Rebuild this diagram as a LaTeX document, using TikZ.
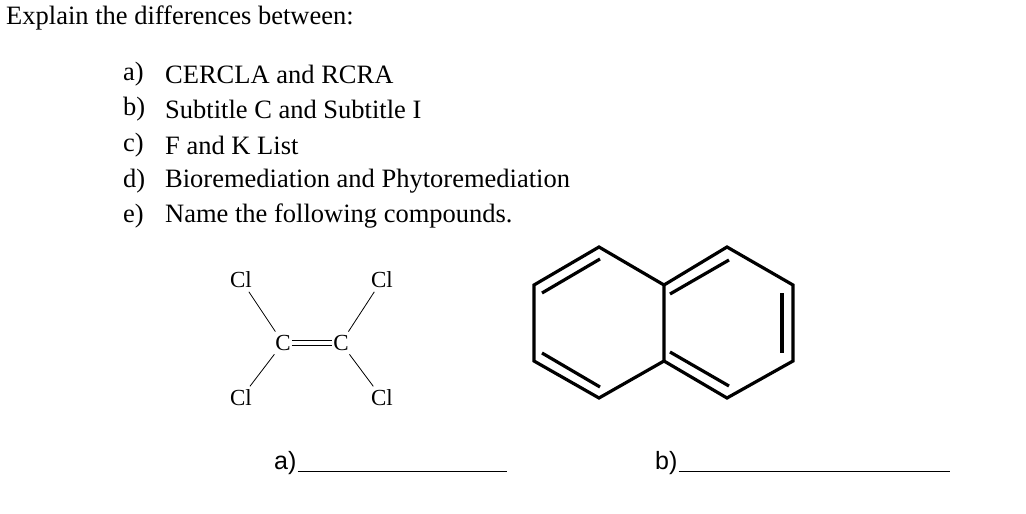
\documentclass[tikz,border=0pt]{standalone}
\usepackage{fontspec}
\setmainfont{Liberation Serif}
\newfontfamily\arialf{Liberation Sans}
\begin{document}
\begin{tikzpicture}[x=1pt,y=-1pt,
  txt/.style={anchor=west,inner sep=0pt,font=\fontsize{26.5}{30}\selectfont},
  atom/.style={inner sep=1pt,font=\fontsize{23}{26}\selectfont},
  bond/.style={line width=0.8pt,shorten >=3pt,shorten <=3pt},
  ring/.style={line width=3.2pt,line join=miter},
  ans/.style={anchor=base west,inner sep=0pt,font=\arialf\fontsize{25}{28}\selectfont}]
\useasboundingbox[fill=white] (0,0) rectangle (1026,514);
\node[txt] (t) at (6,18) {Explain the differences between:};
\foreach \l/\s/\y [count=\i] in {a)/CERCLA and RCRA/74, b)/Subtitle C and Subtitle I/109, c)/F and K List/145, d)/Bioremediation and Phytoremediation/181, e)/Name the following compounds./216}{
  \node[txt] (l\i) at (123,\y) {\l};
  \node[txt] (s\i) at (165,\y) {\s};
}
% tetrachloroethylene
\node[atom] (c1) at (283,343) {C};
\node[atom] (c2) at (341,343) {C};
\node[atom] (cl1) at (241,280) {Cl};
\node[atom] (cl2) at (382,280) {Cl};
\node[atom] (cl3) at (241,398) {Cl};
\node[atom] (cl4) at (382,398) {Cl};
\draw[line width=0.8pt] ([yshift=-2.5]c1.east) -- ([yshift=-2.5]c2.west);
\draw[line width=0.8pt] ([yshift=2.5]c1.east) -- ([yshift=2.5]c2.west);
\draw[bond] (cl1) -- (c1);
\draw[bond] (cl2) -- (c2);
\draw[bond] (cl3) -- (c1);
\draw[bond] (cl4) -- (c2);
% naphthalene
\coordinate (a1) at (599,247);
\coordinate (a2) at (534,285);
\coordinate (a3) at (534,361);
\coordinate (a4) at (599,398);
\coordinate (m2) at (664,361);
\coordinate (m1) at (664,285);
\coordinate (b1) at (727,247);
\coordinate (b2) at (793,285);
\coordinate (b3) at (793,361);
\coordinate (b4) at (727,398);
\draw[ring] (a1) -- (a2) -- (a3) -- (a4) -- (m2) -- (m1) -- cycle;
\draw[ring] (m1) -- (b1) -- (b2) -- (b3) -- (b4) -- (m2);
\draw[ring] (600,259) -- (542,293);
\draw[ring] (542,353) -- (600,387);
\draw[ring] (670,294) -- (729,260);
\draw[ring] (782,293) -- (782,353);
\draw[ring] (670,352) -- (729,386);
% answers
\node[ans] (aa) at (274,469) {a)};
\node[ans] (bb) at (655,469) {b)};
\draw[line width=0.9pt] (aa.base east) ++(1,2) coordinate (ua) -- (507,471);
\draw[line width=0.9pt] (bb.base east) ++(1,2) coordinate (ub) -- (950,471);
\end{tikzpicture}
\end{document}
